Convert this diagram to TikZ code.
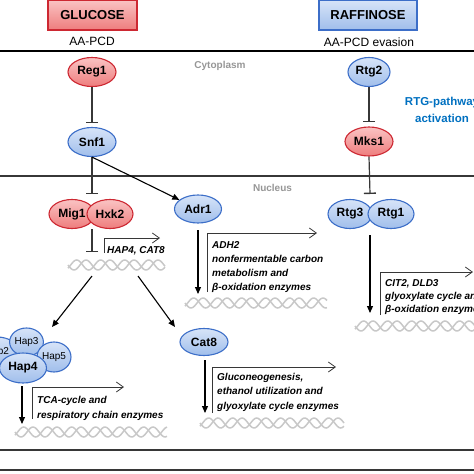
\documentclass[tikz,border=0pt]{standalone}
\usepackage{fontspec}
\setmainfont{Liberation Sans}
\usetikzlibrary{arrows.meta,shapes.geometric}

\definecolor{redline}{RGB}{205,40,50}
\definecolor{redfill}{RGB}{238,125,125}
\definecolor{redlight}{RGB}{250,195,195}
\definecolor{blueline}{RGB}{60,110,200}
\definecolor{bluefill}{RGB}{160,190,235}
\definecolor{bluelight}{RGB}{215,228,248}
\definecolor{rtgblue}{RGB}{0,112,192}
\definecolor{compgray}{RGB}{150,150,150}
\definecolor{dnagray}{RGB}{200,200,200}
\definecolor{linegray}{RGB}{55,55,55}

\tikzset{
  prot/.style={ellipse, draw, line width=1.1pt, inner sep=0pt,
    minimum width=48pt, minimum height=29pt,
    font=\fontsize{12}{14}\selectfont\bfseries},
  redprot/.style={prot, draw=redline, top color=redlight, bottom color=redfill},
  blueprot/.style={prot, draw=blueline, top color=bluelight, bottom color=bluefill},
  hapsub/.style={blueprot, minimum width=32pt, minimum height=28pt,
    font=\fontsize{10}{12}\selectfont},
  sugarbox/.style={rectangle, line width=1.2pt, minimum height=30pt,
    font=\fontsize{13}{15}\selectfont\bfseries},
  inhibit/.style={-{Bar[width=12pt,line width=1.4pt]}, line width=1.2pt, draw=linegray},
  act/.style={-{Triangle[length=7pt,width=6pt]}, line width=1.1pt},
  gene/.style={-{Straight Barb[length=7pt,width=10pt]}, line width=0.8pt, draw=linegray},
  genetext/.style={anchor=north west, align=left, inner sep=0pt,
    font=\fontsize{10}{14.5}\selectfont\bfseries\itshape},
  compart/.style={text=compgray, font=\fontsize{10}{12}\selectfont\bfseries},
  dnastrand/.style={draw=dnagray, line width=1.5pt},
  membrane/.style={line width=2pt, draw=linegray},
}

% DNA double strand: x, y, length
\newcommand\dnahelix[3]{%
  \draw[dnastrand] plot[domain=0:#3,samples=90] ({#1+\x},{#2+5*sin(15*\x)});
  \draw[dnastrand] plot[domain=0:#3,samples=90] ({#1+\x},{#2+5*sin(15*\x+140)});
}

\begin{document}
\begin{tikzpicture}[x=1pt,y=-1pt]
\useasboundingbox (0,0) rectangle (474,474);

% carbon source
\node [sugarbox, draw=redline, top color=redlight, bottom color=redfill,
  minimum width=89pt] (glucose) at (92.5,15) {GLUCOSE};
\node [sugarbox, draw=blueline, top color=bluelight, bottom color=bluefill,
  minimum width=98pt] (raffinose) at (368,15) {RAFFINOSE};
\node [font=\fontsize{12}{14}\selectfont] (pcd) at (92,41.5) {AA-PCD};
\node [font=\fontsize{12}{14}\selectfont] (evasion) at (369,42) {AA-PCD evasion};

\draw [membrane, draw=black, line width=2.2pt] (0,51)--(474,51);
\draw [membrane, line width=1.5pt] (0,176)--(474,176);
\draw [membrane] (0,450)--(474,450);
\draw [membrane] (0,470)--(474,470);

\node [compart] (cyto) at (220,66) {Cytoplasm};
\node [compart] (nucl) at (272.5,188) {Nucleus};
\node [text=rtgblue, align=center, font=\fontsize{11.5}{17}\selectfont\bfseries]
  (rtgpath) at (442,109.5) {RTG-pathway\\activation};

% cytoplasm
\node [redprot] (reg1) at (92,72) {Reg1};
\node [blueprot] (snf1) at (92,142) {Snf1};
\node [blueprot, minimum width=42pt] (rtg2) at (369,72) {Rtg2};
\node [redprot] (mks1) at (369,141.5) {Mks1};

\draw [inhibit, shorten >=4pt] (reg1) -- (snf1);
\draw [inhibit, shorten >=4pt] (rtg2) -- (mks1);

% nucleus
\node [redprot, minimum width=46pt] (mig1) at (72,214) {Mig1};
\node [redprot, minimum width=46pt] (hxk2) at (110,214) {Hxk2};
\node [blueprot, minimum width=47pt, minimum height=28pt] (adr1) at (198,209) {Adr1};
\node [blueprot, minimum width=44pt] (rtg3) at (350,214) {Rtg3};
\node [blueprot, minimum width=46pt] (rtg1) at (391,214) {Rtg1};

\coordinate (snfbar) at (92,194);
\coordinate (mksbar) at (370,194);
\draw [inhibit] (snf1.south) -- (snfbar);
\draw [inhibit] (mks1.south) -- (mksbar);
\draw [act] (snf1.south) -- (adr1);

% HAP4, CAT8
\coordinate (mhbot) at (92,229);
\coordinate (hapbar) at (92,252);
\draw [inhibit] (mhbot) -- (hapbar);
\coordinate (hapgene) at (104,253);
\coordinate (hapgeneend) at (160,238);
\draw [gene] (hapgene) |- (hapgeneend);
\node [genetext, anchor=base west] (hapcat) at (107,253) {HAP4, CAT8};
\dnahelix{68}{265}{97}

\coordinate (dnaleft) at (92,276);
\coordinate (hapin) at (52,327);
\coordinate (dnaright) at (138,276);
\coordinate (catin) at (175,327);
\draw [act] (dnaleft) -- (hapin);
\draw [act] (dnaright) -- (catin);

% Adr1 targets
\coordinate (adrtop) at (198,230);
\coordinate (adrdna) at (198,294);
\draw [act] (adrtop) -- (adrdna);
\coordinate (adrgene) at (207,292);
\coordinate (adrgeneend) at (317,233);
\draw [gene] (adrgene) |- (adrgeneend);
\node [genetext, font=\fontsize{10}{14}\selectfont\bfseries\itshape] (adrtext) at (212,241.7)
  {ADH2\\nonfermentable carbon\\metabolism and\\β-oxidation enzymes};
\dnahelix{185}{303}{142}

% Rtg1/Rtg3 targets
\coordinate (rtgtop) at (370,235);
\coordinate (rtgdna) at (370,313);
\draw [act] (rtgtop) -- (rtgdna);
\coordinate (rtggene) at (380,315);
\coordinate (rtggeneend) at (473,272);
\draw [gene] (rtggene) |- (rtggeneend);
\node [genetext, font=\fontsize{10}{13}\selectfont\bfseries\itshape] (rtgtext) at (385,279.7)
  {CIT2, DLD3\\glyoxylate cycle  and\\β-oxidation enzymes};
\dnahelix{355}{326}{125}

% Hap complex
\node [hapsub, minimum width=44pt, minimum height=30pt] (hap2) at (-3,352) {Hap2};
\node [hapsub, minimum width=31pt] (hap3) at (26.5,342) {Hap3};
\node [hapsub, minimum width=34pt, minimum height=30pt] (hap5) at (54,357) {Hap5};
\node [blueprot, minimum width=47pt, minimum height=30pt] (hap4) at (23,368) {Hap4};

\coordinate (haptop) at (22,386);
\coordinate (hapdna) at (22,424);
\draw [act] (haptop) -- (hapdna);
\coordinate (tcagene) at (32,419);
\coordinate (tcageneend) at (124,387);
\draw [gene] (tcagene) |- (tcageneend);
\node [genetext, font=\fontsize{10}{15}\selectfont\bfseries\itshape] (tcatext) at (37,395.7)
  {TCA-cycle and\\respiratory chain enzymes};
\dnahelix{15}{432}{152}

% Cat8
\node [blueprot, minimum height=27pt] (cat8) at (204,342) {Cat8};
\coordinate (cattop) at (205,360);
\coordinate (catdna) at (205,413);
\draw [act] (cattop) -- (catdna);
\coordinate (catgene) at (212,413);
\coordinate (catgeneend) at (336,367);
\draw [gene] (catgene) |- (catgeneend);
\node [genetext] (cattext) at (217,372.7)
  {Gluconeogenesis,\\ethanol utilization and\\glyoxylate cycle enzymes};
\dnahelix{200}{423}{144}

\end{tikzpicture}
\end{document}
